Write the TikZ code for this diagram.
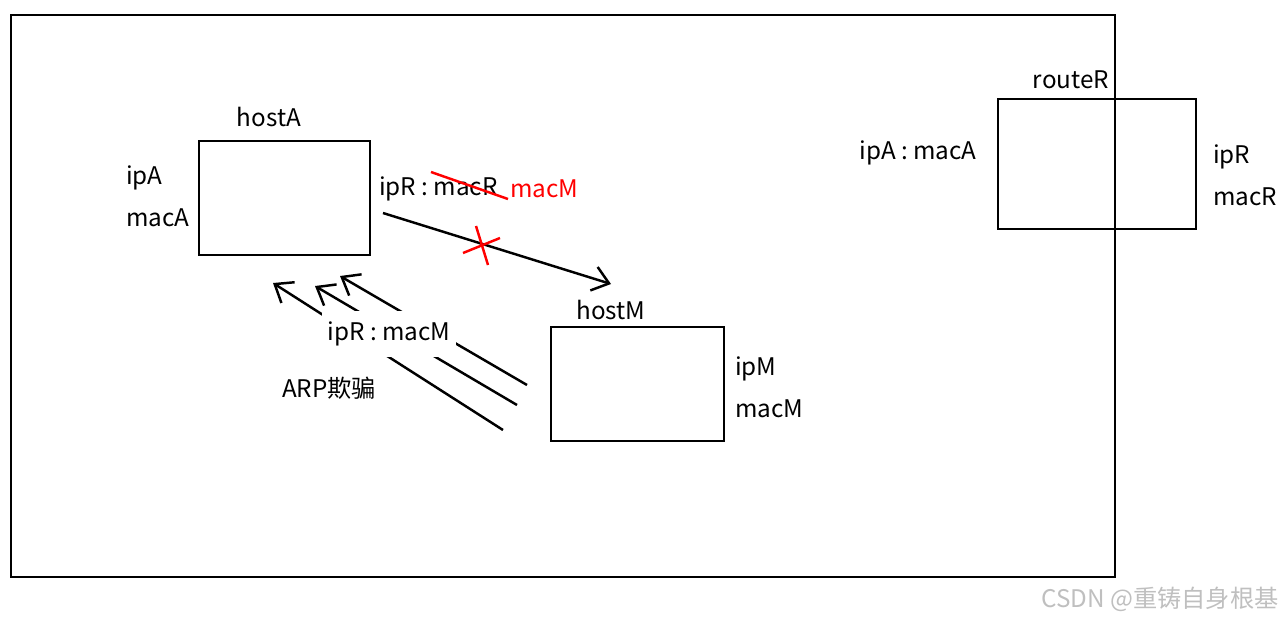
\documentclass[tikz,border=0pt]{standalone}
\usepackage{fontspec}
\setmainfont{Noto Sans CJK SC}
\usetikzlibrary{arrows.meta}
\begin{document}
\begin{tikzpicture}[x=0.02cm,y=-0.02cm,
  font=\fontsize{13.8pt}{16pt}\selectfont,
  box/.style={draw=black,line width=1.6pt,inner sep=0pt},
  lbl/.style={inner sep=1pt},
  arr/.style={line width=1.4pt,-{Straight Barb[length=9pt,width=14pt,line width=1.4pt]}},
]
\useasboundingbox (0,0) rectangle (1284,620);
\draw[line width=1.6pt] (11,15) rectangle (1115,577);
% hosts
\node[box,minimum width=3.42cm,minimum height=2.28cm] (hostA) at (284.5,198) {};
\node[box,minimum width=3.46cm,minimum height=2.28cm] (hostM) at (637.5,384) {};
\node[box,minimum width=3.96cm,minimum height=2.6cm] (routeR) at (1097,164) {};
% labels
\node[lbl] (lA) at (269,117) {hostA};
\node[lbl,anchor=west] (ipA) at (124,178) {ipA};
\node[lbl,anchor=west] (macA) at (124,218) {macA};
\node[lbl,anchor=west] (tab) at (377,189) {ipR : macR};
\node[lbl,anchor=west,text=red] (new) at (508,189) {macM};
\node[lbl] (lR) at (1071,80) {routeR};
\node[lbl] (ipAmac) at (918,153) {ipA : macA};
\node[lbl,anchor=west] (ipR) at (1211,157) {ipR};
\node[lbl,anchor=west] (macR) at (1211,197) {macR};
\node[lbl] (lM) at (611,310) {hostM};
\node[lbl,anchor=west] (ipM) at (733,369) {ipM};
\node[lbl,anchor=west] (macM) at (733,409) {macM};
% strike-through
\coordinate (s1) at (431,172); \coordinate (s2) at (508,199);
\draw[red,line width=1.4pt] (s1) -- (s2);
% main arrow
\coordinate (m1) at (383,213); \coordinate (m2) at (611,284);
\draw[arr] (m1) -- (m2);
\coordinate (x1) at (463,253); \coordinate (x2) at (500,238);
\coordinate (x3) at (476,226); \coordinate (x4) at (488,265);
\draw[red,line width=1.4pt] (x1) -- (x2) (x3) -- (x4);
% spoof arrows
\coordinate (a1) at (503,430); \coordinate (b1) at (273,283);
\coordinate (a2) at (517,405); \coordinate (b2) at (315,286);
\coordinate (a3) at (527,385); \coordinate (b3) at (340,276);
\draw[arr] (a1) -- (b1);
\draw[arr] (a2) -- (b2);
\draw[arr] (a3) -- (b3);
\node[lbl,fill=white,inner xsep=3pt,inner ysep=6pt] (spoof) at (389,334) {ipR : macM};
\node[lbl] (arp) at (329,388) {ARP欺骗};
\node[lbl,text=black!25] (wm) at (1160,599) {CSDN @重铸自身根基};
\end{tikzpicture}
\end{document}
